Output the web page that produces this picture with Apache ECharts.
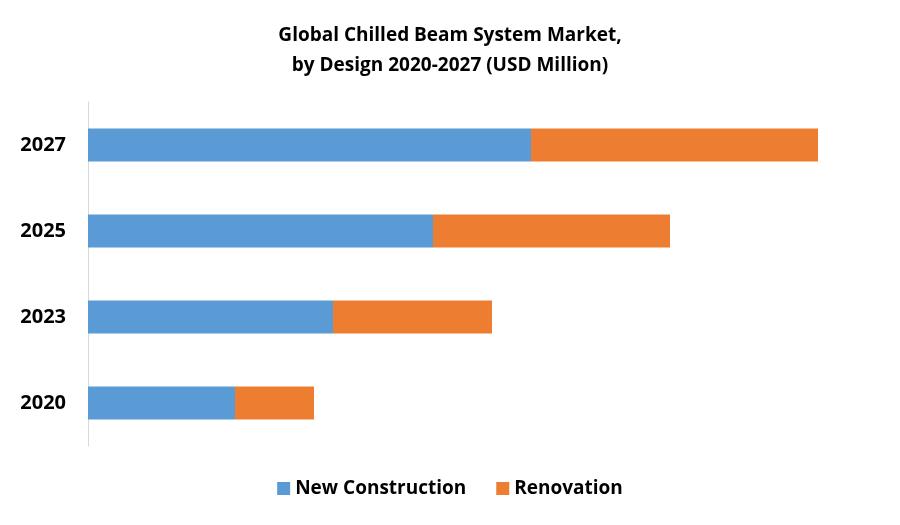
<!DOCTYPE html>
<html>
<head>
<meta charset="utf-8">
<script src="https://cdn.jsdelivr.net/npm/echarts@6/dist/echarts.min.js"></script>
<style>html,body{margin:0;padding:0;background:#fff}#chart{width:900px;height:525px}</style>
</head>
<body>
<div id="chart"></div>
<script>
// Categories from bottom to top
const years = ["2020", "2023", "2025", "2027"];
const newConstruction = [147, 245, 345, 443];
const renovation = [79, 159, 237, 287];

const chart = echarts.init(document.getElementById("chart"));
const font = "'Open Sans', 'Liberation Sans', sans-serif";

chart.setOption({
  title: {
    text: "Global Chilled Beam System Market,\nby Design 2020-2027 (USD Million)",
    left: "center",
    top: 16,
    textStyle: { fontFamily: font, fontSize: 19, fontWeight: "bold", color: "#000", lineHeight: 30 },
  },
  legend: {
    data: ["New Construction", "Renovation"],
    bottom: 22,
    left: "center",
    itemWidth: 13,
    itemHeight: 13,
    itemGap: 30,
    icon: "rect",
    textStyle: { fontFamily: font, fontSize: 19, fontWeight: "bold", color: "#000" },
  },
  grid: { left: 88, right: 0, top: 102, height: 344 },
  xAxis: { type: "value", min: 0, max: 812, show: false },
  yAxis: {
    type: "category",
    data: years,
    axisTick: { show: false },
    axisLine: { lineStyle: { color: "#d9d9d9" } },
    axisLabel: { fontFamily: font, fontSize: 20, fontWeight: "bold", color: "#000", margin: 22 },
  },
  series: [
    {
      name: "New Construction",
      type: "bar",
      stack: "total",
      barWidth: 33,
      data: newConstruction,
      itemStyle: { color: "#5b9bd5" },
    },
    {
      name: "Renovation",
      type: "bar",
      stack: "total",
      barWidth: 33,
      data: renovation,
      itemStyle: { color: "#ed7d31" },
    },
  ],
});
</script>
</body>
</html>
